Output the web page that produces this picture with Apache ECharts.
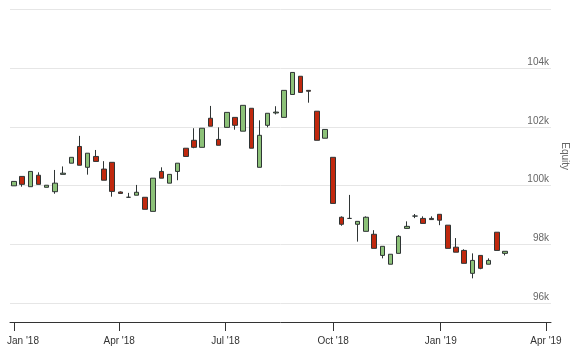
<!DOCTYPE html>
<html><head><meta charset="utf-8">
<script src="https://cdn.jsdelivr.net/npm/echarts@6/dist/echarts.min.js"></script>
<style>html,body{margin:0;padding:0;background:#fff}#c{width:580px;height:360px}</style>
</head><body><div id="c"></div>
<script>
const weeks = ['2018-01-01','2018-01-08','2018-01-15','2018-01-22','2018-01-29','2018-02-05','2018-02-12','2018-02-19','2018-02-26','2018-03-05','2018-03-12','2018-03-19','2018-03-26','2018-04-02','2018-04-09','2018-04-16','2018-04-23','2018-04-30','2018-05-07','2018-05-14','2018-05-21','2018-05-28','2018-06-04','2018-06-11','2018-06-18','2018-06-25','2018-07-02','2018-07-09','2018-07-16','2018-07-23','2018-07-30','2018-08-06','2018-08-13','2018-08-20','2018-08-27','2018-09-03','2018-09-10','2018-09-17','2018-09-24','2018-10-01','2018-10-08','2018-10-15','2018-10-22','2018-10-29','2018-11-05','2018-11-12','2018-11-19','2018-11-26','2018-12-03','2018-12-10','2018-12-17','2018-12-24','2018-12-31','2019-01-07','2019-01-14','2019-01-21','2019-01-28','2019-02-04','2019-02-11','2019-02-18','2019-02-25'];
const openV  = [99990,100310,99960,100350,99940,99790,100380,100760,101330,100620,100990,100560,100790,99780,99600,99670,99600,99120,100480,100080,100480,101270,101540,101300,102290,101570,101980,102320,101850,102630,100620,102050,102470,102320,103100,103720,103240,102530,101610,100960,98920,98880,98680,98440,98340,97620,97320,97690,98540,98960,98880,98880,99020,98650,97900,97790,97010,97620,97320,98410,97690];
const closeV = [100140,100040,100480,100040,100010,100080,100420,100960,100690,101100,100820,100180,99800,99730,99600,99770,99190,100250,100250,100380,100760,100990,101300,101950,102020,101370,102490,102050,102730,101270,101710,102460,102500,103240,103850,103170,103210,101540,101910,99390,98680,98880,98780,98920,97860,97930,97660,98270,98610,98960,98710,98840,98820,97860,97730,97350,97450,97180,97450,97790,97760];
const lowV   = [99990,99960,99960,100040,99940,99720,100380,100760,100690,100370,100820,100180,99620,99730,99600,99670,99190,99120,100250,100080,100180,100990,101270,101300,102020,101370,101980,101900,101850,101270,100620,101980,102420,102320,103100,103170,102820,101540,101610,99390,98630,98880,98090,98440,97860,97520,97320,97690,98540,98890,98710,98840,98650,97860,97730,97350,96840,97150,97320,97790,97620];
const highV  = [100140,100310,100480,100450,100010,100530,100650,100960,101690,101100,101210,100830,100790,99800,99750,100020,99600,100250,100620,100380,100760,101270,101950,101950,102710,101980,102490,102320,102730,102630,102220,102460,102700,103240,103850,103720,103240,102530,101910,100960,98950,99680,98780,98950,98480,97930,97660,98310,98780,99030,98950,98950,99020,98650,98210,97830,97690,97620,97520,98410,97760];
const yTickLabels = [96000, 98000, 100000, 102000, 104000];
const xTickDates = ['2018-01-01','2018-04-01','2018-07-01','2018-10-01','2019-01-01','2019-04-01'];
const MONTHS = ['Jan','Feb','Mar','Apr','May','Jun','Jul','Aug','Sep','Oct','Nov','Dec'];

const T = s => new Date(s + 'T00:00:00Z').getTime();
const DAY = 86400000;
const candles = weeks.map((w, i) => [T(w), openV[i], closeV[i], lowV[i], highV[i]]);
const xTicks = xTickDates.map(T);
const fmtDate = v => { const d = new Date(v); return MONTHS[d.getUTCMonth()] + " '" + String(d.getUTCFullYear()).slice(2); };

const chart = echarts.init(document.getElementById('c'), null, {renderer: 'canvas'});
chart.setOption({
  animation: false,
  backgroundColor: '#ffffff',
  grid: {left: 10, right: 29, top: 9.3, bottom: 57},
  xAxis: {
    type: 'value',
    min: T('2018-01-01') - 3.4 * DAY,
    max: T('2019-04-01') + 4.3 * DAY,
    offset: 19,
    splitLine: {show: false},
    axisLine: {show: true, onZero: false, lineStyle: {color: '#333333', width: 1}},
    axisTick: {show: true, length: 9, customValues: xTicks, lineStyle: {color: '#333333'}},
    axisLabel: {
      customValues: xTicks,
      color: '#333333', fontSize: 10, fontFamily: 'Liberation Sans, Arial, sans-serif', margin: 14,
      formatter: v => v === xTicks[0] ? '{first|' + fmtDate(v) + '}' : fmtDate(v),
      rich: {first: {padding: [0, 0, 0, 18], color: '#333333', fontSize: 10, fontFamily: 'Liberation Sans, Arial, sans-serif'}}
    }
  },
  yAxis: {
    type: 'value',
    position: 'right',
    min: 96000, max: 106000, interval: 2000,
    name: 'Equity', nameLocation: 'middle', nameRotate: -90, nameGap: 6,
    nameTextStyle: {color: '#666666', fontSize: 10, fontFamily: 'Liberation Sans, Arial, sans-serif'},
    axisLine: {show: false}, axisTick: {show: false},
    splitLine: {show: true, lineStyle: {color: '#e6e6e6', width: 1}},
    axisLabel: {
      inside: true, margin: 2, verticalAlign: 'bottom', padding: [0, 0, 1, 0],
      customValues: yTickLabels,
      color: '#666666', fontSize: 10, fontFamily: 'Liberation Sans, Arial, sans-serif',
      formatter: v => (v / 1000) + 'k'
    }
  },
  series: [{
    type: 'candlestick',
    data: candles,
    encode: {x: 0, y: [1, 2, 3, 4]},
    barWidth: 5,
    itemStyle: {
      color: '#8cc178', color0: '#c0280e',
      borderColor: '#2f3535', borderColor0: '#2f3535', borderWidth: 1
    }
  }]
});
</script></body></html>
